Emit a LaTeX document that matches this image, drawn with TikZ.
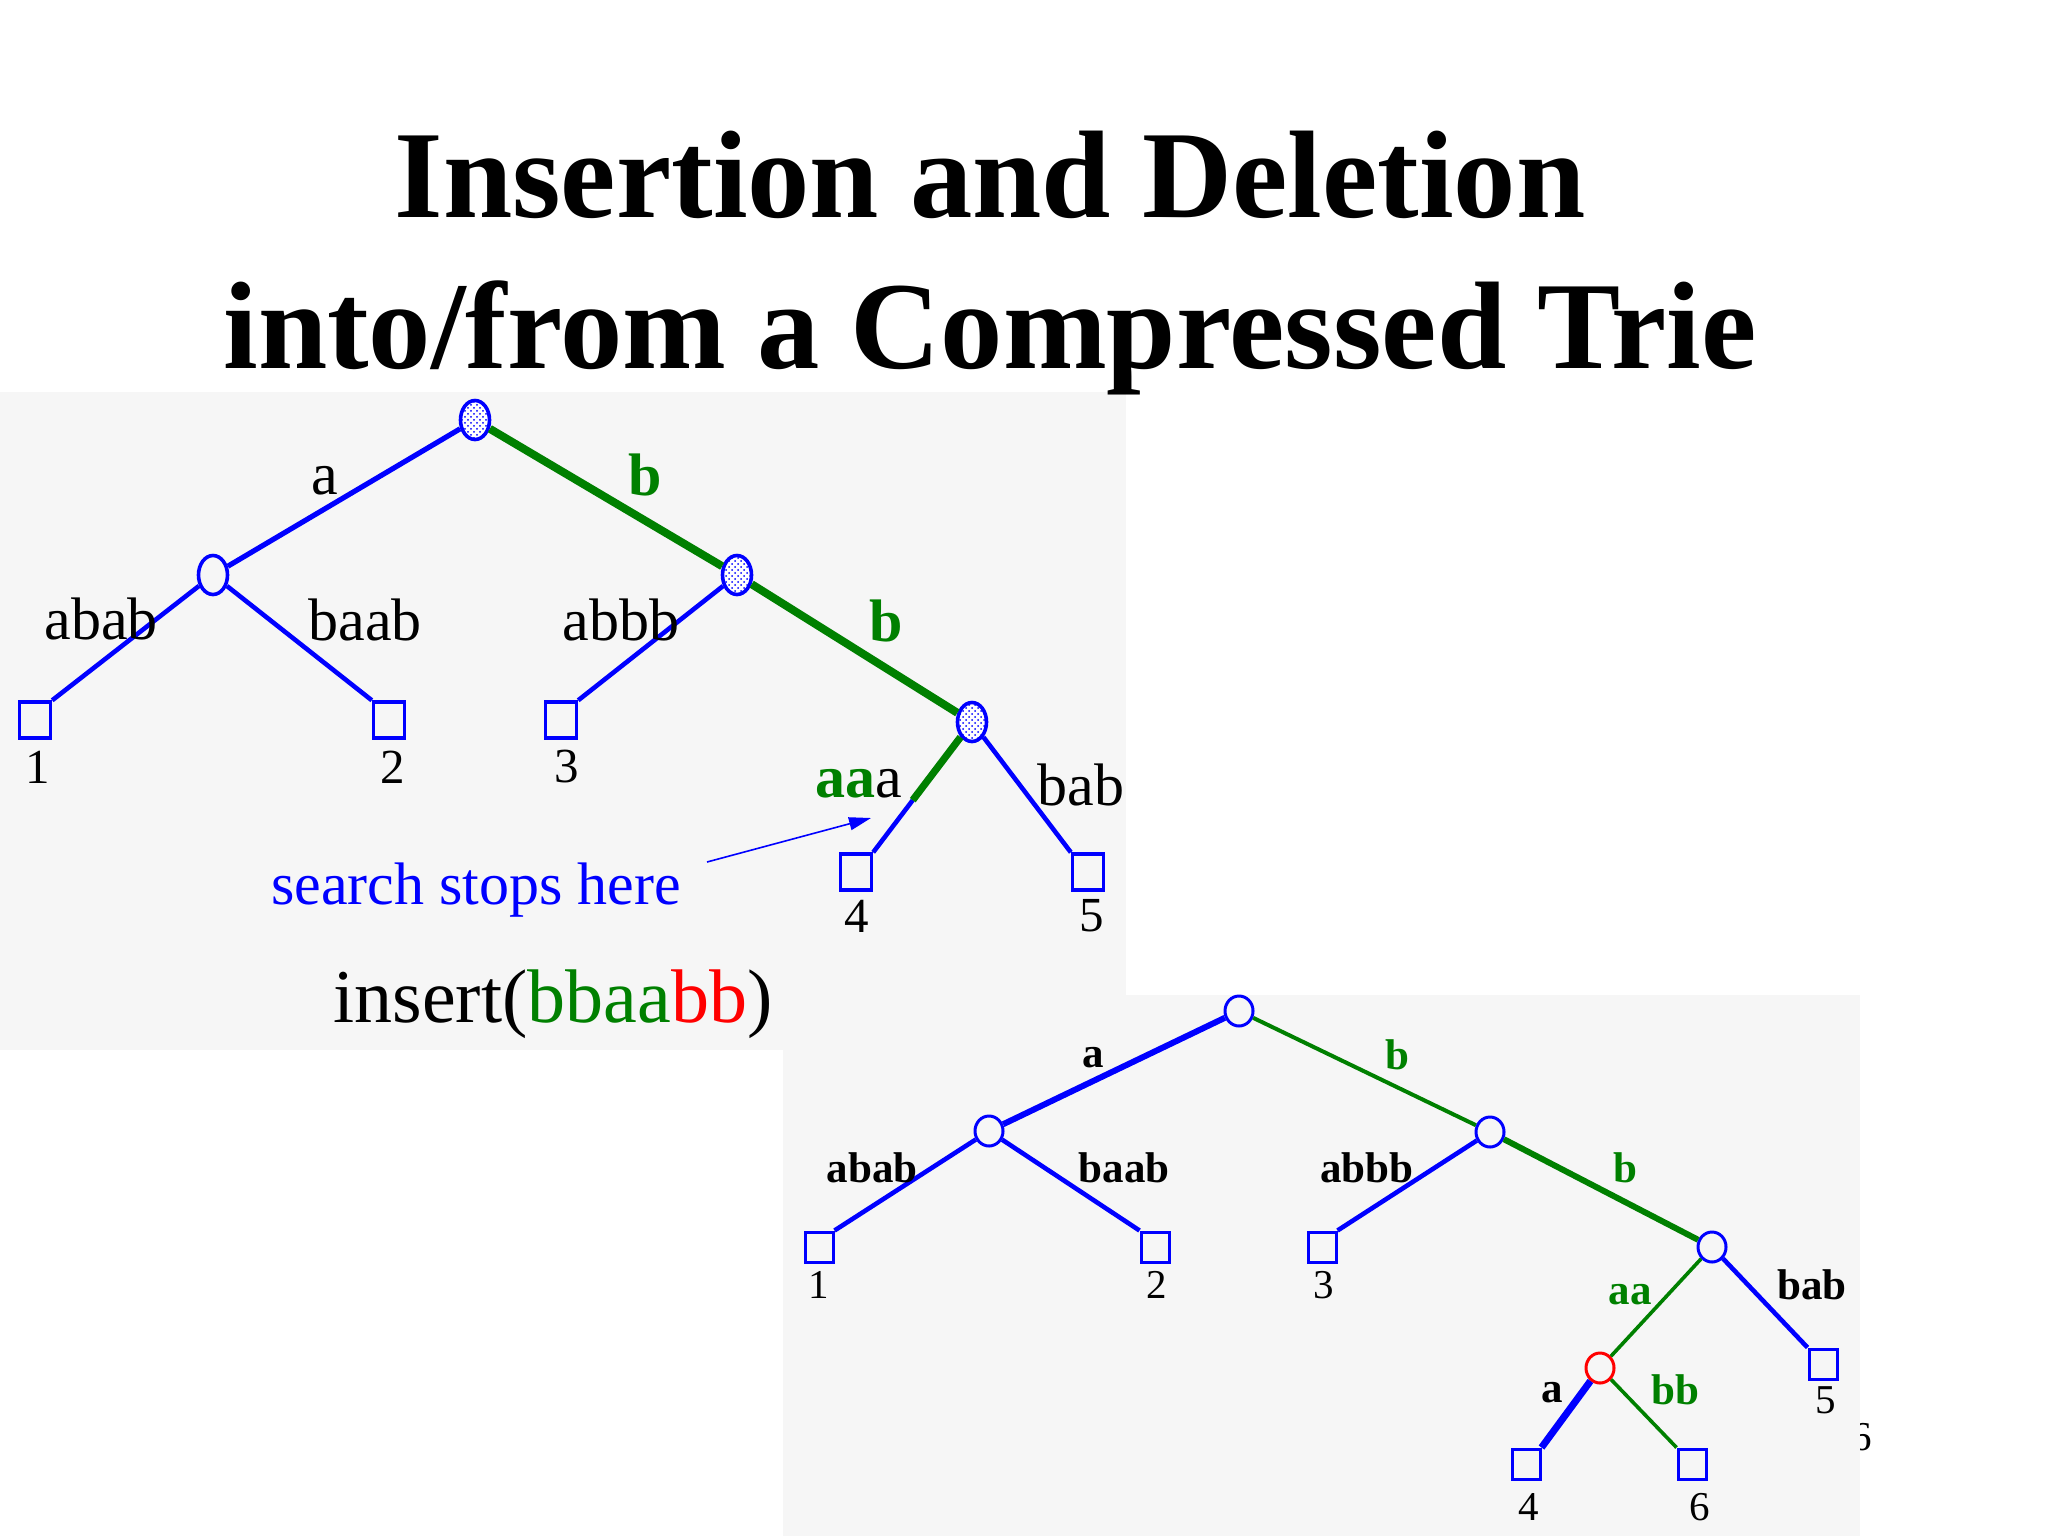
\documentclass[tikz,border=0pt]{standalone}
\usepackage{fontspec}
\setmainfont{Liberation Serif}
\usetikzlibrary{shapes.geometric,patterns,calc,arrows.meta}
\definecolor{tgreen}{RGB}{0,128,0}
\definecolor{tblue}{RGB}{0,0,255}
\definecolor{tred}{RGB}{255,0,0}
\definecolor{panelbg}{RGB}{246,246,246}
\begin{document}
\begin{tikzpicture}[x=0.5pt,y=-0.5pt,
  topint/.style={ellipse,draw=tblue,line width=1.8pt,minimum width=14.5pt,minimum height=19.5pt,inner sep=0pt},
  dotnode/.style={topint,preaction={fill=white},pattern=crosshatch dots,pattern color=tblue},
  hollowtop/.style={topint,fill=panelbg},
  topleaf/.style={rectangle,draw=tblue,line width=1.7pt,minimum width=15.5pt,minimum height=18pt,inner sep=0pt},
  botint/.style={ellipse,draw=tblue,line width=1.5pt,minimum width=14pt,minimum height=15pt,inner sep=0pt,fill=panelbg},
  botleaf/.style={rectangle,draw=tblue,line width=1.5pt,minimum width=14pt,minimum height=15pt,inner sep=0pt},
  toplbl/.style={inner sep=0pt,font=\fontsize{30}{36}\selectfont},
  topnum/.style={inner sep=0pt,font=\fontsize{24.5}{28}\selectfont},
  botlbl/.style={inner sep=0pt,font=\fontsize{21.5}{25}\selectfont\bfseries},
  botnum/.style={inner sep=0pt,font=\fontsize{20.5}{24}\selectfont},
  titlefont/.style={inner sep=0pt,anchor=base,font=\fontsize{62.3}{74}\selectfont\bfseries},
]
\useasboundingbox (0,0) rectangle (2048,1536);
\fill[white] (0,0) rectangle (2048,1536);

% stray partial digit, hidden under the lower panel
\node[botnum] (stray) at (1862,1437) {6};

% panels
\fill[panelbg] (0,392) rectangle (1126,1050);
\fill[panelbg] (783,995) rectangle (1860,1536);

% title
\node[titlefont] (t1) at (990,217) {Insertion and Deletion};
\node[titlefont] (t2) at (990,368) {into/from a Compressed Trie};

% ---------- upper trie ----------
\node[dotnode] (r1) at (475,420) {};
\node[hollowtop] (a1) at (213,575) {};
\node[dotnode] (b1) at (737,575) {};
\node[dotnode] (bb1) at (972,722) {};
\node[topleaf] (l1) at (35,720) {};
\node[topleaf] (l2) at (389,720) {};
\node[topleaf] (l3) at (561,720) {};
\node[topleaf] (l4) at (856,872) {};
\node[topleaf] (l5) at (1088,872) {};

\draw[tblue,line width=2.6pt] (r1) -- (a1);
\draw[tgreen,line width=4pt] (r1) -- (b1);
\draw[tblue,line width=2.3pt] (a1) -- (l1.north east);
\draw[tblue,line width=2.3pt] (a1) -- (l2.north west);
\draw[tblue,line width=2.3pt] (b1) -- (l3.north east);
\draw[tgreen,line width=4pt] (b1) -- (bb1);
\draw[tblue,line width=2.3pt] (bb1) -- (l5.north west);
\coordinate (sp) at ($(bb1)!0.6!(l4.north east)$);
\draw[tblue,line width=2.3pt] (sp) -- (l4.north east);
\draw[tgreen,line width=3.6pt] (bb1) -- (sp);

\node[toplbl] (la) at (325,481) {a};
\node[toplbl,text=tgreen,font=\fontsize{30}{36}\selectfont\bfseries] (lb) at (645,475) {b};
\node[toplbl] (labab) at (101,619) {abab};
\node[toplbl] (lbaab) at (365,620) {baab};
\node[toplbl] (labbb) at (621,620) {abbb};
\node[toplbl,text=tgreen,font=\fontsize{30}{36}\selectfont\bfseries] (lbb) at (886,621) {b};
\node[toplbl] (laaa) at (859,784) {\textcolor{tgreen}{\bfseries aa}a};
\node[toplbl] (lbab) at (1081,785) {bab};

\node[topnum] (n1) at (38,767) {1};
\node[topnum] (n2) at (393,767) {2};
\node[topnum] (n3) at (567,767) {3};
\node[topnum] (n4) at (857,916) {4};
\node[topnum] (n5) at (1092,916) {5};

\node[toplbl,text=tblue] (stop) at (476,890) {search stops here};
\coordinate (as) at (707,862);
\coordinate (ae) at (871,818);
\draw[tblue,line width=0.8pt,-{Triangle[length=11pt,width=6.5pt]}] (as) -- (ae);

\node[inner sep=0pt,font=\fontsize{38}{44}\selectfont] (ins) at (553,1004)
  {insert(\textcolor{tgreen}{bbaa}\textcolor{tred}{bb})};

% ---------- lower trie ----------
\node[botint] (r2) at (1239,1011) {};
\node[botint] (a2) at (989,1131) {};
\node[botint] (b2) at (1490,1132) {};
\node[botint] (bb2) at (1712,1247) {};
\node[botint,draw=tred] (rd) at (1600,1368) {};
\node[botleaf] (m1) at (819,1247) {};
\node[botleaf] (m2) at (1155,1247) {};
\node[botleaf] (m3) at (1322,1247) {};
\node[botleaf] (m5) at (1823,1364) {};
\node[botleaf] (m4) at (1526,1464) {};
\node[botleaf] (m6) at (1692,1464) {};

\draw[tblue,line width=3pt] (r2) -- (a2);
\draw[tgreen,line width=2pt] (r2) -- (b2);
\draw[tblue,line width=2.3pt] (a2) -- (m1.north east);
\draw[tblue,line width=2.3pt] (a2) -- (m2.north west);
\draw[tblue,line width=2.3pt] (b2) -- (m3.north east);
\draw[tgreen,line width=3pt] (b2) -- (bb2);
\draw[tgreen,line width=1.8pt] (bb2) -- (rd);
\draw[tblue,line width=2.3pt] (bb2) -- (m5.north west);
\draw[tblue,line width=3.5pt] (rd) -- (m4.north east);
\draw[tgreen,line width=1.8pt] (rd) -- (m6.north west);

\node[botlbl] (ka) at (1093,1058) {a};
\node[botlbl,text=tgreen] (kb) at (1397,1055) {b};
\node[botlbl] (kabab) at (872,1168) {abab};
\node[botlbl] (kbaab) at (1124,1168) {baab};
\node[botlbl] (kabbb) at (1367,1168) {abbb};
\node[botlbl,text=tgreen] (kbb) at (1625,1168) {b};
\node[botlbl,text=tgreen] (kaa) at (1630,1295) {aa};
\node[botlbl] (kbab) at (1812,1285) {bab};
\node[botlbl] (ka2) at (1552,1393) {a};
\node[botlbl,text=tgreen] (kbb2) at (1675,1390) {bb};

\node[botnum] (p1) at (819,1285) {1};
\node[botnum] (p2) at (1157,1285) {2};
\node[botnum] (p3) at (1324,1285) {3};
\node[botnum] (p5) at (1826,1400) {5};
\node[botnum] (p4) at (1529,1507) {4};
\node[botnum] (p6) at (1700,1507) {6};
\end{tikzpicture}
\end{document}
